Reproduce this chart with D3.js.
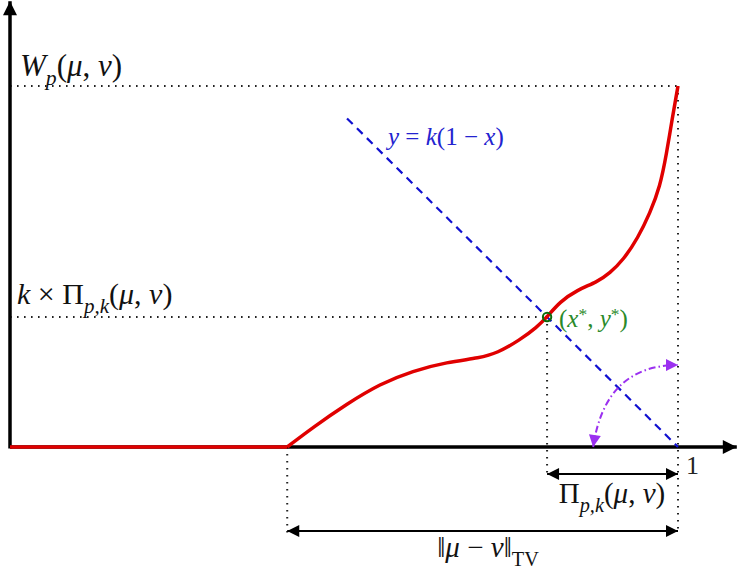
<!DOCTYPE html>
<html><head><meta charset="utf-8">
<script src="https://cdn.jsdelivr.net/npm/d3@7"></script>
<style>body{margin:0;background:#fff}svg{display:block}</style>
</head><body>
<svg id="c" width="738" height="572"></svg>
<script>
// ---- data ----
const curveX = [0, 0.415, 0.454, 0.504, 0.554, 0.603, 0.654, 0.704, 0.729, 0.763, 0.789, 0.804, 0.823, 0.849, 0.879, 0.898, 0.918, 0.940, 0.958, 0.973, 0.983, 0.991, 1.0];
const curveY = [0, 0,     0.055, 0.119, 0.175, 0.211, 0.235, 0.247, 0.260, 0.296, 0.332, 0.360, 0.402, 0.435, 0.457, 0.482, 0.518, 0.579, 0.648, 0.720, 0.814, 0.906, 1.0];
const kSlope = 1.837;          // y = k(1-x)
const lineStartX = 0.5045;
const xStar = 0.804;
const xTV = 0.415;
const wp = 1.0;
const axisMaxX = 1.088, axisMaxY = 1.235;
const arcPts = [[0.873, 0], [0.891, 0.227], [1.0, 0.227]];

const svg = d3.select("#c");
const x = d3.scaleLinear().domain([0, 1]).range([10, 678]);
const y = d3.scaleLinear().domain([0, 1]).range([447, 86]);
const yStar = kSlope * (1 - xStar);

const defs = svg.append("defs");
function marker(id, color, w, h) {
  defs.append("marker").attr("id", id).attr("viewBox", "0 0 10 10").attr("refX", 10).attr("refY", 5)
    .attr("markerWidth", w).attr("markerHeight", h).attr("markerUnits", "userSpaceOnUse").attr("orient", "auto-start-reverse")
    .append("path").attr("d", "M0,0 L10,5 L0,10 Z").attr("fill", color);
}
marker("axArrow", "#000", 18, 14);
marker("dimArrow", "#000", 18, 12);
marker("purArrow", "#9b30f0", 14, 12);

const dotted = {stroke: "#222", "stroke-width": 2, "stroke-dasharray": "1.6,5.4", "stroke-linecap": "butt"};
function seg(x1, y1, x2, y2, st) {
  const l = svg.append("line").attr("x1", x1).attr("y1", y1).attr("x2", x2).attr("y2", y2);
  for (const k in st) l.attr(k, st[k]);
  return l;
}
// dotted guides
seg(x(0), y(wp), x(1), y(wp), dotted);
seg(x(0), y(yStar), x(xStar), y(yStar), dotted);
seg(x(xStar), y(yStar), x(xStar), 477, dotted);
seg(x(1), y(wp), x(1), 533, dotted);
seg(x(xTV), y(0), x(xTV), 533, dotted);

// axes
seg(x(0), y(0), x(axisMaxX), y(0), {stroke: "#000", "stroke-width": 3.5}).attr("marker-end", "url(#axArrow)");
seg(x(0), y(0) + 1.5, x(0), y(axisMaxY), {stroke: "#000", "stroke-width": 3.5}).attr("marker-end", "url(#axArrow)");

// dashed line y = k(1-x)
seg(x(lineStartX), y(kSlope * (1 - lineStartX)), x(1), y(0), {stroke: "#1010d0", "stroke-width": 2.2, "stroke-dasharray": "8,6"});

// red curve
const pts = curveX.map((v, i) => [v, curveY[i]]);
svg.append("path").datum(pts.slice(0, 2)).attr("d", d3.line().x(d => x(d[0])).y(d => y(d[1])))
  .attr("fill", "none").attr("stroke", "#e00000").attr("stroke-width", 3.5);
svg.append("path").datum(pts.slice(1)).attr("d", d3.line().x(d => x(d[0])).y(d => y(d[1])).curve(d3.curveBasis))
  .attr("fill", "none").attr("stroke", "#e00000").attr("stroke-width", 3.5);

// purple arc
const ap = d3.path();
ap.moveTo(x(arcPts[0][0]), y(arcPts[0][1]));
ap.quadraticCurveTo(x(arcPts[1][0]), y(arcPts[1][1]), x(arcPts[2][0]), y(arcPts[2][1]));
svg.append("path").attr("d", ap.toString()).attr("fill", "none").attr("stroke", "#9b30f0").attr("stroke-width", 2)
  .attr("stroke-dasharray", "7,3,1.5,3").attr("marker-start", "url(#purArrow)").attr("marker-end", "url(#purArrow)");

// green point
svg.append("circle").attr("cx", x(xStar)).attr("cy", y(yStar)).attr("r", 4.2)
  .attr("fill", "none").attr("stroke", "#0a6a0a").attr("stroke-width", 2);

// dimension arrows
seg(x(xStar), 474, x(1), 474, {stroke: "#000", "stroke-width": 2.2}).attr("marker-start", "url(#dimArrow)").attr("marker-end", "url(#dimArrow)");
seg(x(xTV), 531, x(1), 531, {stroke: "#000", "stroke-width": 2.2}).attr("marker-start", "url(#dimArrow)").attr("marker-end", "url(#dimArrow)");

// math text helper
const FONT = "'Liberation Serif', 'DejaVu Serif', serif";
function math(px, py, size, color, parts, anchor) {
  const t = svg.append("text").attr("x", px).attr("y", py).attr("font-family", FONT)
    .attr("font-size", size).attr("fill", color).attr("text-anchor", anchor || "start");
  let shifted = 0;
  parts.forEach(([s, st]) => {
    const sp = t.append("tspan").text(s);
    let dy = 0, fs = size;
    if (st.includes("sub")) { dy = size * 0.3; fs = size * 0.7; }
    else if (st.includes("sup")) { dy = -size * 0.28; fs = size * 0.7; }
    sp.attr("dy", dy - shifted).attr("font-size", fs);
    shifted = dy;
    if (st.includes("i")) sp.attr("font-style", "italic");
  });
  return t;
}
math(20, 76, 31, "#111", [["W", "i"], ["p", "isub"], ["(", "r"], ["μ", "i"], [", ", "r"], ["ν", "i"], [")", "r"]]);
math(17, 304, 30, "#111", [["k", "i"], [" × Π", "r"], ["p,k", "isub"], ["(", "r"], ["μ", "i"], [", ", "r"], ["ν", "i"], [")", "r"]]);
math(388, 145, 25, "#2323d0", [["y", "i"], [" = ", "r"], ["k", "i"], ["(1 − ", "r"], ["x", "i"], [")", "r"]]);
math(559, 327, 25, "#2a8a2a", [["(", "r"], ["x", "i"], ["*", "rsup"], [", ", "r"], ["y", "i"], ["*", "rsup"], [")", "r"]]);
math(686, 474, 26, "#222", [["1", "r"]]);
math(612, 503, 29, "#111", [["Π", "r"], ["p,k", "isub"], ["(", "r"], ["μ", "i"], [", ", "r"], ["ν", "i"], [")", "r"]], "middle");
math(488, 557, 29, "#111", [["‖", "r"], ["μ", "i"], [" − ", "r"], ["ν", "i"], ["‖", "r"], ["TV", "rsub"]], "middle");
</script>
</body></html>
